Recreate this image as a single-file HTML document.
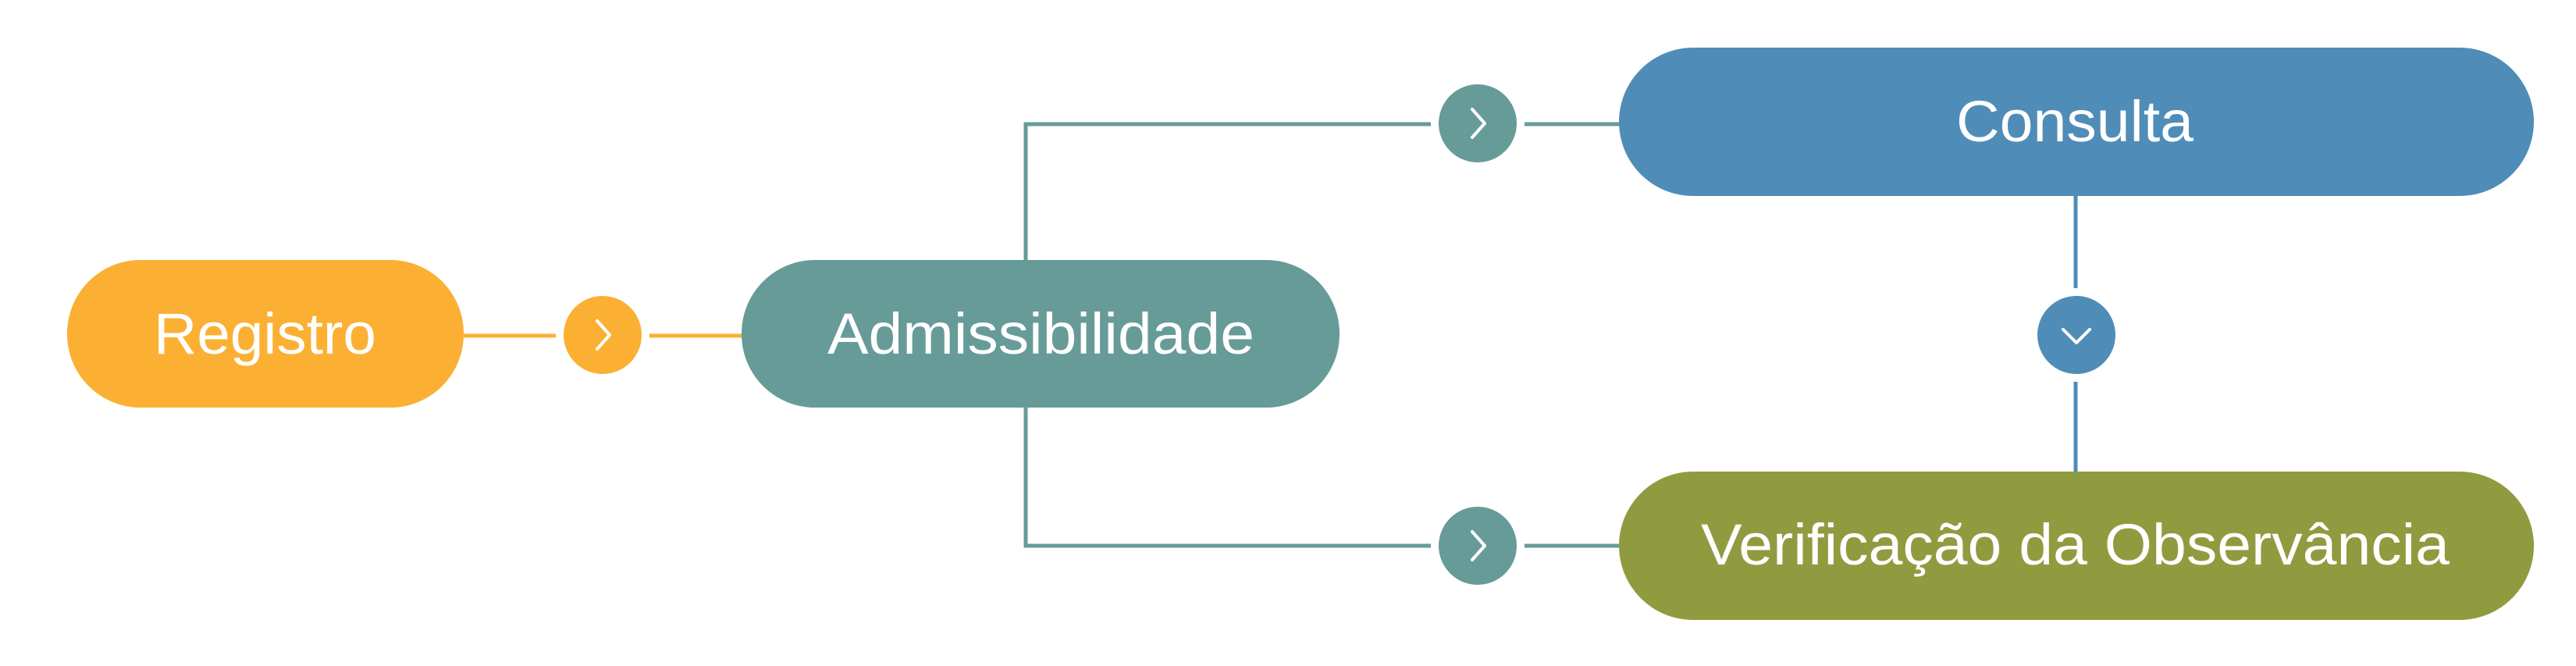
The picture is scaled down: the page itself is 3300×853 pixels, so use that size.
<!DOCTYPE html>
<html><head><meta charset="utf-8"><style>html,body{margin:0;padding:0;background:#fff}svg{display:block}</style></head>
<body>
<svg width="3300" height="853" viewBox="0 0 3300 853" xmlns="http://www.w3.org/2000/svg" font-family="'Liberation Sans', sans-serif">
<rect width="3300" height="853" fill="#fff"/>
<line x1="594" y1="430" x2="950" y2="430" stroke="#FBB034" stroke-width="5"/>
<polyline points="1314,334 1314,159 2074,159" fill="none" stroke="#669B98" stroke-width="5"/>
<polyline points="1314,522 1314,699 2074,699" fill="none" stroke="#669B98" stroke-width="5"/>
<line x1="2659" y1="250" x2="2659" y2="605" stroke="#4F8DB8" stroke-width="5"/>
<rect x="86" y="333" width="508" height="189" rx="94" fill="#FBB034"/>
<rect x="950" y="333" width="766" height="189" rx="94" fill="#669B98"/>
<rect x="2074" y="61" width="1172" height="190" rx="95" fill="#4F8DB8"/>
<rect x="2074" y="604" width="1172" height="190" rx="95" fill="#909B3F"/>
<g stroke="#fff" stroke-width="10">
<circle cx="772" cy="429" r="55" fill="#FBB034"/>
<circle cx="1893" cy="158" r="55" fill="#669B98"/>
<circle cx="1893" cy="699" r="55" fill="#669B98"/>
<circle cx="2660" cy="429" r="55" fill="#4F8DB8"/>
</g>
<g stroke="#fff" stroke-width="4" fill="none" stroke-linecap="round" stroke-linejoin="round">
<polyline points="765,411 781,429 765,447"/>
<polyline points="1886,140 1902,158 1886,176"/>
<polyline points="1886,681 1902,699 1886,717"/>
<polyline points="2643,422 2660,439 2677,422"/>
</g>
<g fill="#fff" font-size="74">
<text x="197" y="453" textLength="285" lengthAdjust="spacingAndGlyphs">Registro</text>
<text x="1060" y="453" textLength="547" lengthAdjust="spacingAndGlyphs">Admissibilidade</text>
<text x="2506" y="181" textLength="304" lengthAdjust="spacingAndGlyphs">Consulta</text>
<text x="2179" y="723" textLength="959" lengthAdjust="spacingAndGlyphs">Verificação da Observância</text>
</g>
</svg>
</body></html>
